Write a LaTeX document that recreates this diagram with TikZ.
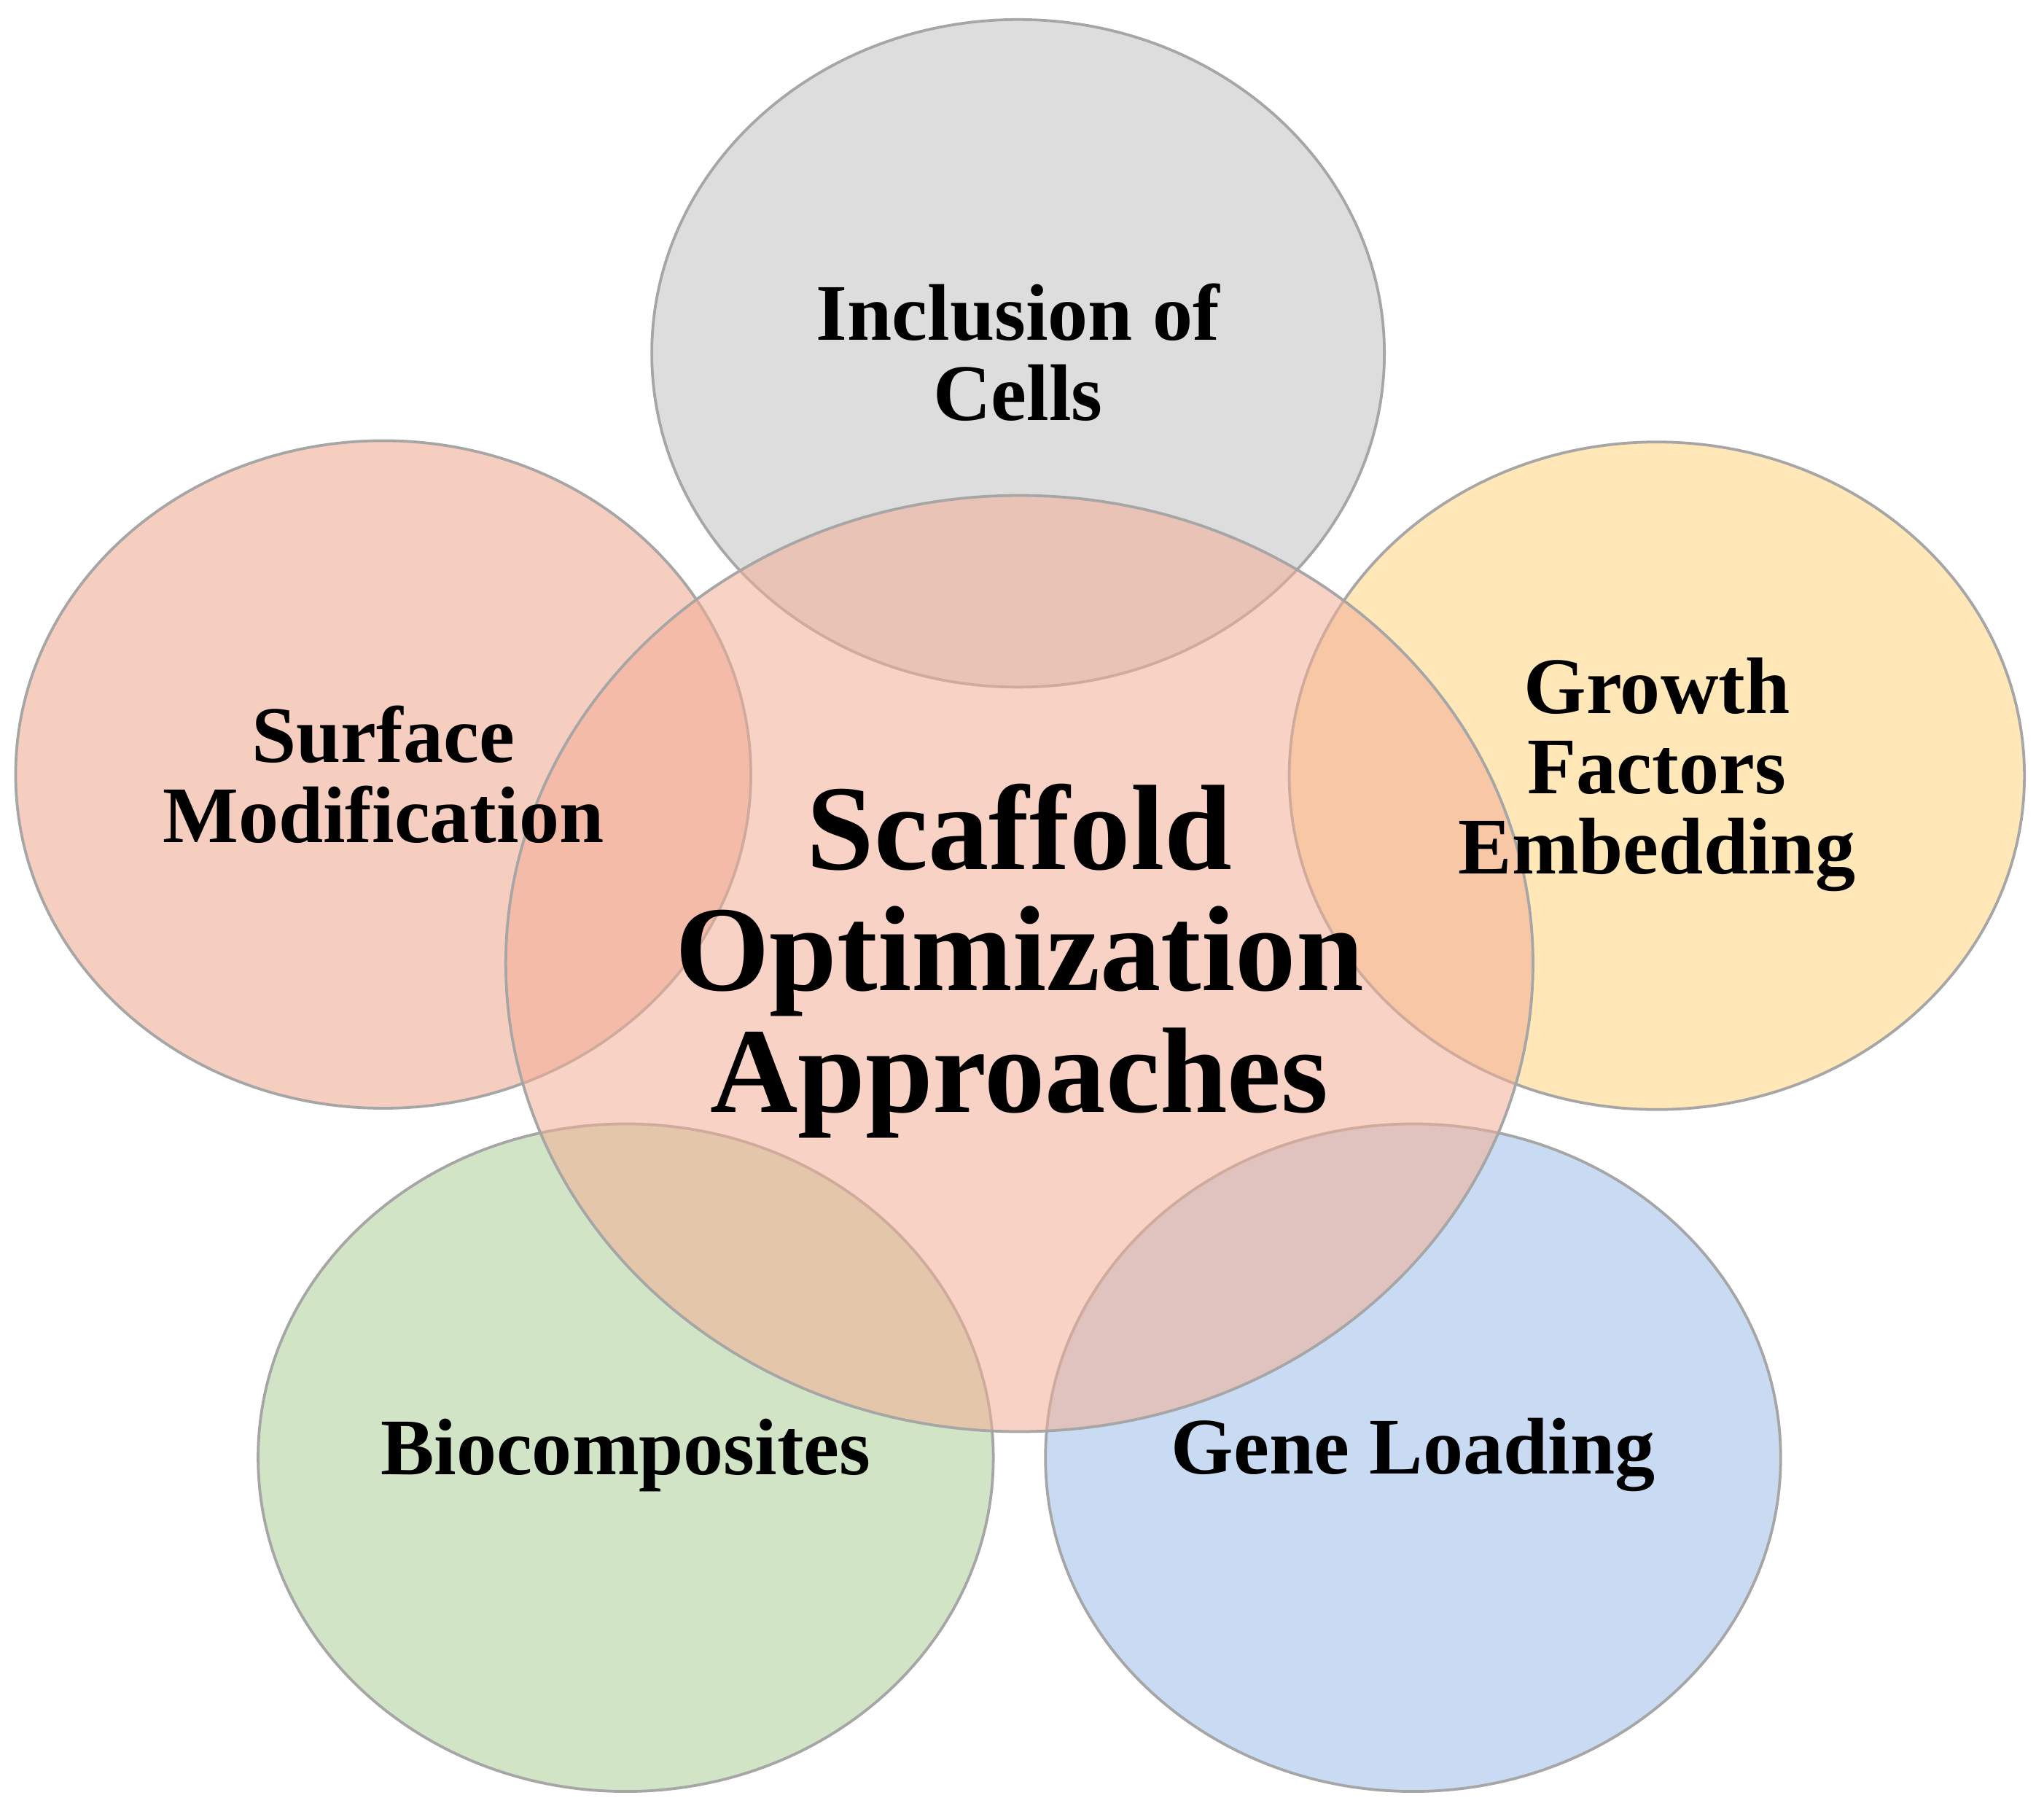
\documentclass[tikz,border=0pt]{standalone}
\usepackage{fontspec}
\setmainfont{Liberation Serif}
\begin{document}
\begin{tikzpicture}[x=0.01cm,y=-0.01cm,
  circ/.style={draw=gray!70,line width=0.6pt,fill opacity=0.62},
  lab/.style={font=\bfseries\fontsize{17.5}{17.5}\selectfont,align=center,text=black},
  big/.style={font=\bfseries\fontsize{26.5}{26.5}\selectfont,align=center,text=black}]
\useasboundingbox (0,0) rectangle (1568,1391);
\fill[white] (0,0) rectangle (1568,1391);
\definecolor{cg}{HTML}{C9C9C9}
\definecolor{cs}{HTML}{F2B09A}
\definecolor{cy}{HTML}{FFD98E}
\definecolor{cgr}{HTML}{B6D5A4}
\definecolor{cb}{HTML}{A9C6EC}
\definecolor{cc}{HTML}{F4AE96}
\path[circ,fill=cg] (781,271) ellipse (281 and 256);
\path[circ,fill=cs] (294,594) ellipse (282 and 256);
\path[circ,fill=cy] (1271,595) ellipse (282 and 256);
\path[circ,fill=cgr] (480,1118) ellipse (282 and 256);
\path[circ,fill=cb] (1084,1118) ellipse (282 and 256);
\path[circ,fill=cc,fill opacity=0.55] (782,739) ellipse (394 and 359);
\node[lab] (inc) at (781,270) {Inclusion of\\Cells};
\node[lab] (sur) at (294,594) {Surface\\Modification};
\node[lab] (gro) at (1271,594) {Growth\\Factors\\Embedding};
\node[lab] (bio) at (480,1116) {Biocomposites};
\node[lab] (gen) at (1084,1116) {Gene Loading};
\node[big] (cen) at (782,737) {Scaffold\\Optimization\\Approaches};
\end{tikzpicture}
\end{document}
